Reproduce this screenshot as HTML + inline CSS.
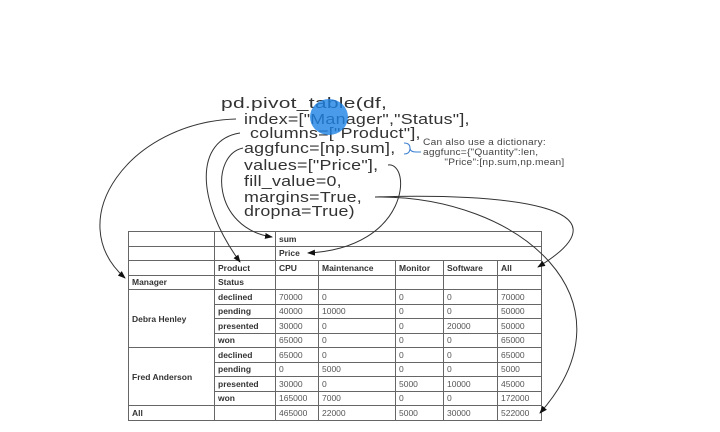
<!DOCTYPE html>
<html><head><style>
body{margin:0;width:720px;height:432px;background:#fff;position:relative;overflow:hidden;font-family:"Liberation Sans",sans-serif}
.c{position:absolute;font-size:15px;color:#333;white-space:nowrap;letter-spacing:0.2px;transform:scaleX(1.19);transform-origin:0 0}
table{position:absolute;left:128px;top:231px;border-collapse:collapse;font-size:8.5px;font-weight:bold;color:#333}
td{border:1px solid #666;height:13.5px;padding:0 3px;white-space:nowrap}
td.n{font-weight:normal;color:#555}
</style></head><body>
<div class="c" style="left:221px;top:95px;transform:scaleX(1.4)">pd.pivot_table(df,</div>
<div class="c" style="left:244px;top:111px">index=["Manager","Status"],</div>
<div class="c" style="left:250px;top:125px">columns=["Product"],</div>
<div class="c" style="left:244px;top:140px">aggfunc=[np.sum],</div>
<div class="c" style="left:244px;top:157px">values=["Price"],</div>
<div class="c" style="left:244px;top:173px">fill_value=0,</div>
<div class="c" style="left:244px;top:189px">margins=True,</div>
<div class="c" style="left:244px;top:203px">dropna=True)</div>
<div class="c" style="left:423px;top:137px;font-size:9px;line-height:10px;color:#444;transform:scaleX(1.13)">Can also use a dictionary:<br>aggfunc={"Quantity":len,<br>&nbsp;&nbsp;&nbsp;&nbsp;&nbsp;&nbsp;&nbsp;"Price":[np.sum,np.mean]</div>
<div style="position:absolute;left:310px;top:99px;width:38px;height:36px;border-radius:50%;background:rgba(30,130,230,0.8)"></div>
<table>
<colgroup><col style="width:86px"><col style="width:61px"><col style="width:43px"><col style="width:77px"><col style="width:48px"><col style="width:54px"><col style="width:44px"></colgroup>
<tr><td></td><td></td><td colspan="5">sum</td></tr>
<tr><td></td><td></td><td colspan="5">Price</td></tr>
<tr><td></td><td>Product</td><td>CPU</td><td>Maintenance</td><td>Monitor</td><td>Software</td><td>All</td></tr>
<tr><td>Manager</td><td>Status</td><td></td><td></td><td></td><td></td><td></td></tr>
<tr><td rowspan="4">Debra Henley</td><td>declined</td><td class="n">70000</td><td class="n">0</td><td class="n">0</td><td class="n">0</td><td class="n">70000</td></tr>
<tr><td>pending</td><td class="n">40000</td><td class="n">10000</td><td class="n">0</td><td class="n">0</td><td class="n">50000</td></tr>
<tr><td>presented</td><td class="n">30000</td><td class="n">0</td><td class="n">0</td><td class="n">20000</td><td class="n">50000</td></tr>
<tr><td>won</td><td class="n">65000</td><td class="n">0</td><td class="n">0</td><td class="n">0</td><td class="n">65000</td></tr>
<tr><td rowspan="4">Fred Anderson</td><td>declined</td><td class="n">65000</td><td class="n">0</td><td class="n">0</td><td class="n">0</td><td class="n">65000</td></tr>
<tr><td>pending</td><td class="n">0</td><td class="n">5000</td><td class="n">0</td><td class="n">0</td><td class="n">5000</td></tr>
<tr><td>presented</td><td class="n">30000</td><td class="n">0</td><td class="n">5000</td><td class="n">10000</td><td class="n">45000</td></tr>
<tr><td>won</td><td class="n">165000</td><td class="n">7000</td><td class="n">0</td><td class="n">0</td><td class="n">172000</td></tr>
<tr><td>All</td><td></td><td class="n">465000</td><td class="n">22000</td><td class="n">5000</td><td class="n">30000</td><td class="n">522000</td></tr>
</table>
<svg width="720" height="432" style="position:absolute;left:0;top:0" fill="none" stroke="#333" stroke-width="1">
<defs><marker id="a" markerWidth="8" markerHeight="6" refX="7" refY="3" orient="auto"><path d="M0,0L8,3L0,6z" fill="#111" stroke="none"/></marker></defs>
<path d="M236,119 C130,122 60,220 125,278" marker-end="url(#a)"/>
<path d="M240,133 C195,140 195,200 240,262" marker-end="url(#a)"/>
<path d="M243,148 C210,155 212,228 272,237" marker-end="url(#a)"/>
<path d="M388,165 C412,162 410,248 308,253" marker-end="url(#a)"/>
<path d="M375,197 C500,193 640,205 538,267" marker-end="url(#a)"/>
<path d="M375,197 C520,195 640,300 540,413" marker-end="url(#a)"/>
<path d="M404,143 Q410,143 410,148 Q410,152 416,152 M410,148 Q410,154 404,154 M416,152 L421,152" stroke="#3a7fd0"/>
</svg>
</body></html>
